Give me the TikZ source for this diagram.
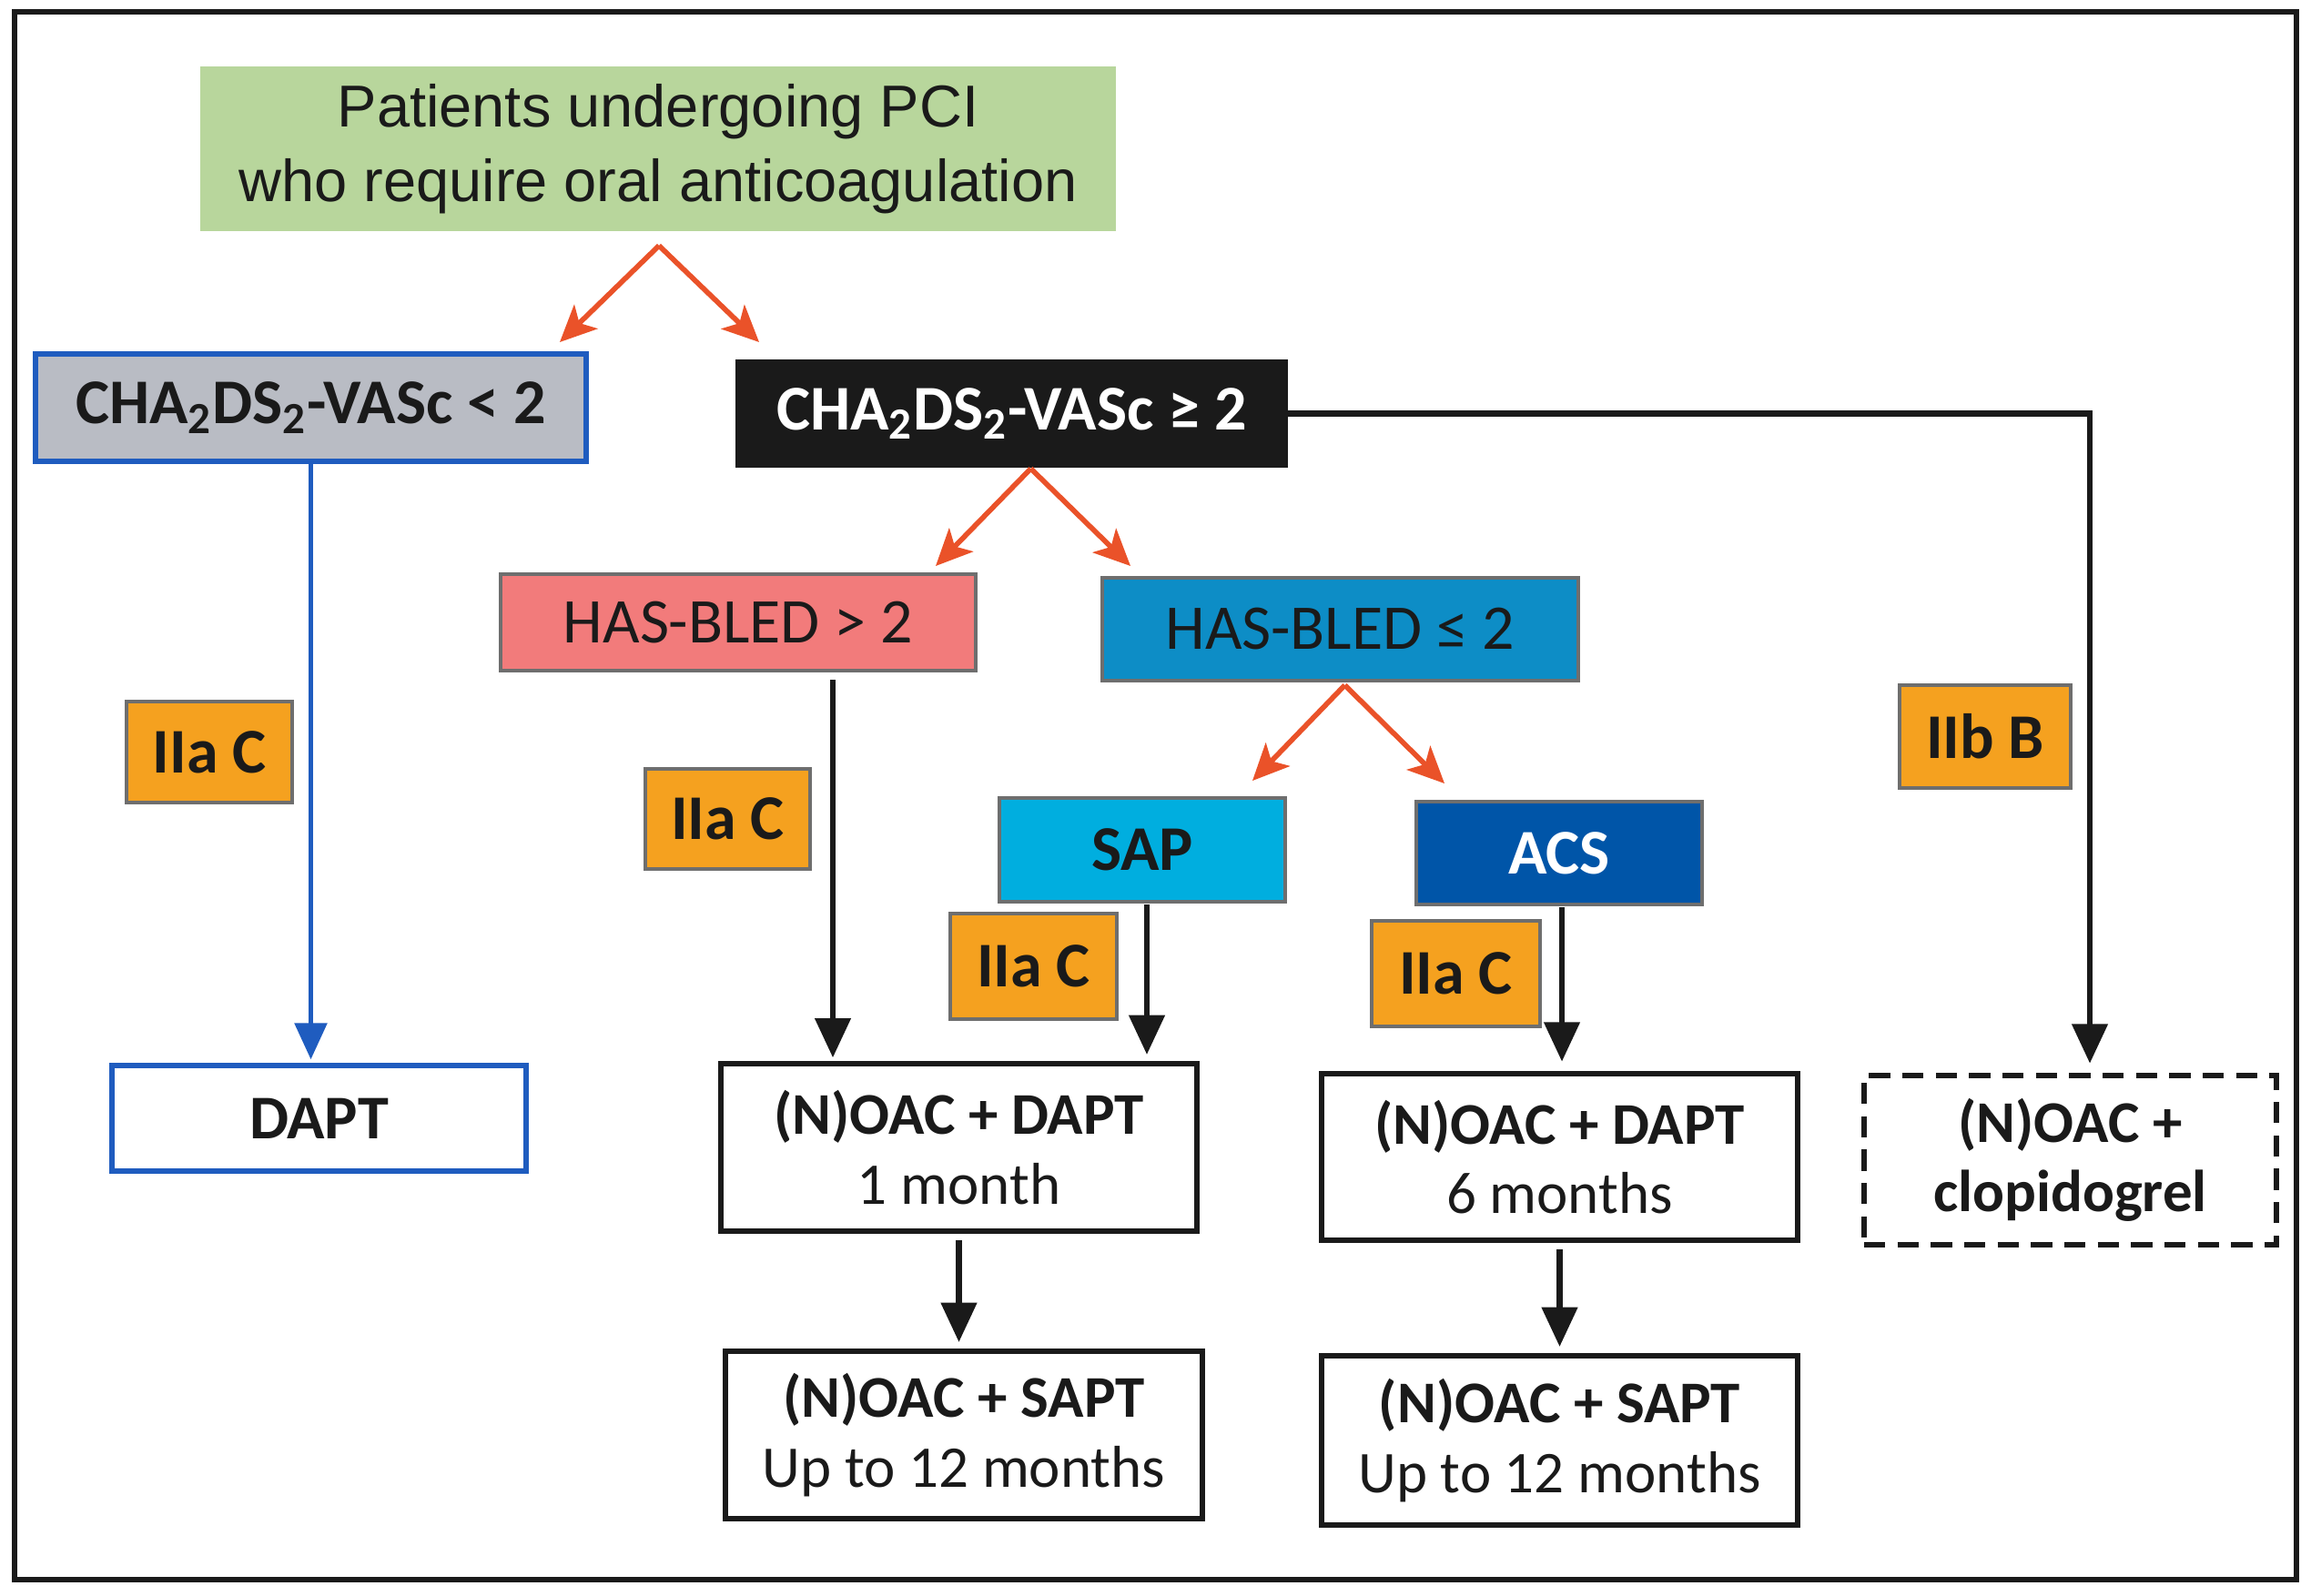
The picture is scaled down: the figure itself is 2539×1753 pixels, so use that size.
\documentclass[tikz,border=0pt]{standalone}
\usepackage{fontspec}
\setmainfont{Carlito}
\newfontfamily\arialf{Liberation Sans}
\usetikzlibrary{arrows.meta,calc}
\definecolor{ogreen}{HTML}{B8D69C}
\definecolor{cgray}{HTML}{B9BCC4}
\definecolor{cblue}{HTML}{1F5CBF}
\definecolor{salmon}{HTML}{F27B7B}
\definecolor{hbblue}{HTML}{0D8DC6}
\definecolor{sapc}{HTML}{00AEDF}
\definecolor{acsc}{HTML}{0055A8}
\definecolor{rorange}{HTML}{F5A11F}
\definecolor{redarr}{HTML}{EA5229}
\definecolor{bord}{HTML}{6E6E6E}
\definecolor{ink}{HTML}{1A1A1A}
\begin{document}
\begin{tikzpicture}[x=0.3pt,y=-0.3pt,
  sz/.style 2 args={minimum width={#1*0.3pt},minimum height={#2*0.3pt}},
  base/.style={rectangle,inner sep=0pt,outer sep=0pt,align=center,text=ink},
  colbox/.style={base,draw=bord,line width=1pt},
  whitebox/.style={base,draw=ink,fill=white,line width=2pt,font=\fontsize{19.5}{23}\selectfont},
  rating/.style={colbox,fill=rorange,font=\fontsize{21}{24}\selectfont\bfseries},
  redarrow/.style={draw=redarr,line width=1.7pt,-{Stealth[length=12pt,width=11pt,inset=3pt]}},
  blk/.style={draw=ink,line width=2pt,-{Triangle[length=13pt,width=11.5pt]}},
  blueline/.style={draw=cblue,line width=1.7pt,-{Triangle[length=12pt,width=10.5pt]}}]
\useasboundingbox (0,0) rectangle (2539,1753);
\fill[white] (0,0) rectangle (2539,1753);
\draw[ink,line width=2pt] (16,13) rectangle (2523,1736);

% nodes
\node[base,fill=ogreen,sz={1006}{181},font=\arialf\fontsize{19.5}{24.5}\selectfont] (green) at (723,163.5) {Patients undergoing PCI\\who require oral anticoagulation};
\node[base,fill=cgray,draw=cblue,line width=1.8pt,sz={605}{118},font=\fontsize{21}{24}\selectfont\bfseries] (cha1) at (341.5,448) {CHA\textsubscript{2}DS\textsubscript{2}-VASc < 2};
\node[colbox,fill=ink,draw=ink,text=white,sz={603}{115},font=\fontsize{21}{24}\selectfont\bfseries] (cha2) at (1111.5,454.5) {CHA\textsubscript{2}DS\textsubscript{2}-VASc ≥ 2};
\node[colbox,fill=salmon,sz={522}{106},font=\fontsize{21}{24}\selectfont] (hb1) at (811,684) {HAS-BLED > 2};
\node[colbox,fill=hbblue,sz={523}{113},font=\fontsize{21}{24}\selectfont] (hb2) at (1472.5,691.5) {HAS-BLED ≤ 2};
\node[colbox,fill=sapc,sz={314}{114},font=\fontsize{21}{24}\selectfont\bfseries] (sap) at (1255,934) {SAP};
\node[colbox,fill=acsc,text=white,sz={314}{113},font=\fontsize{21}{24}\selectfont\bfseries] (acs) at (1713,937.5) {ACS};
\node[rating,sz={182}{111}] (r1) at (230,826.5) {IIa C};
\node[rating,sz={181}{110}] (r2) at (799.5,900) {IIa C};
\node[rating,sz={183}{116}] (r3) at (1135.5,1062) {IIa C};
\node[rating,sz={185}{116}] (r4) at (1599.5,1070) {IIa C};
\node[rating,sz={188}{113}] (r5) at (2181,809.5) {IIb B};
\node[base,fill=white,draw=cblue,line width=1.8pt,sz={455}{116},font=\fontsize{20.5}{24}\selectfont\bfseries] (dapt) at (350.5,1229) {DAPT};
\node[whitebox,sz={523}{184}] (d1) at (1053.5,1261) {\textbf{(N)OAC + DAPT}\\1 month};
\node[whitebox,sz={524}{184}] (s1) at (1059,1577) {\textbf{(N)OAC + SAPT}\\Up to 12 months};
\node[whitebox,sz={523}{183}] (d2) at (1713.5,1271.5) {\textbf{(N)OAC + DAPT}\\6 months};
\node[whitebox,sz={523}{186}] (s2) at (1713.5,1583) {\textbf{(N)OAC + SAPT}\\Up to 12 months};
\node[whitebox,dashed,dash pattern=on 7pt off 4pt,sz={453}{186},font=\fontsize{19.5}{23}\selectfont\bfseries] (clop) at (2274.5,1275) {(N)OAC +\\clopidogrel};

% branching points
\coordinate (ap1) at ($(green.south)+(1,16)$);
\coordinate (t1a) at (615,376);
\coordinate (t1b) at (834,376);
\coordinate (ap2) at ($(cha2.south)+(21,3)$);
\coordinate (t2a) at (1028,622);
\coordinate (t2b) at (1242,622);
\coordinate (ap3) at ($(hb2.south)+(5,5)$);
\coordinate (t3a) at (1376,858);
\coordinate (t3b) at (1587,861);
\coordinate (xa) at (915,0);
\coordinate (xs) at (1260,0);
\coordinate (xc) at (1716,0);
\coordinate (xr) at (2296,0);

\draw[redarrow] (ap1) -- (t1a);
\draw[redarrow] (ap1) -- (t1b);
\draw[redarrow] (ap2) -- (t2a);
\draw[redarrow] (ap2) -- (t2b);
\draw[redarrow] (ap3) -- (t3a);
\draw[redarrow] (ap3) -- (t3b);

% connectors
\draw[blueline,shorten >=2pt] (cha1.south) -- (cha1.south |- dapt.north);
\draw[blk,shorten <=3pt,shorten >=2pt] (hb1.south -| xa) -- (d1.north -| xa);
\draw[blk,shorten <=1pt,shorten >=3pt] (sap.south -| xs) -- (d1.north -| xs);
\draw[blk,shorten <=1pt,shorten >=4pt] (acs.south -| xc) -- (d2.north -| xc);
\draw[blk,shorten <=3pt,shorten >=3pt] (d1.south) -- (s1.north -| d1.south);
\draw[blk,shorten <=3pt,shorten >=3pt] (d2.south) -- (s2.north -| d2.south);
\draw[blk,shorten >=4pt] (cha2.east) -- (cha2.east -| xr) -- (clop.north -| xr);
\end{tikzpicture}
\end{document}
